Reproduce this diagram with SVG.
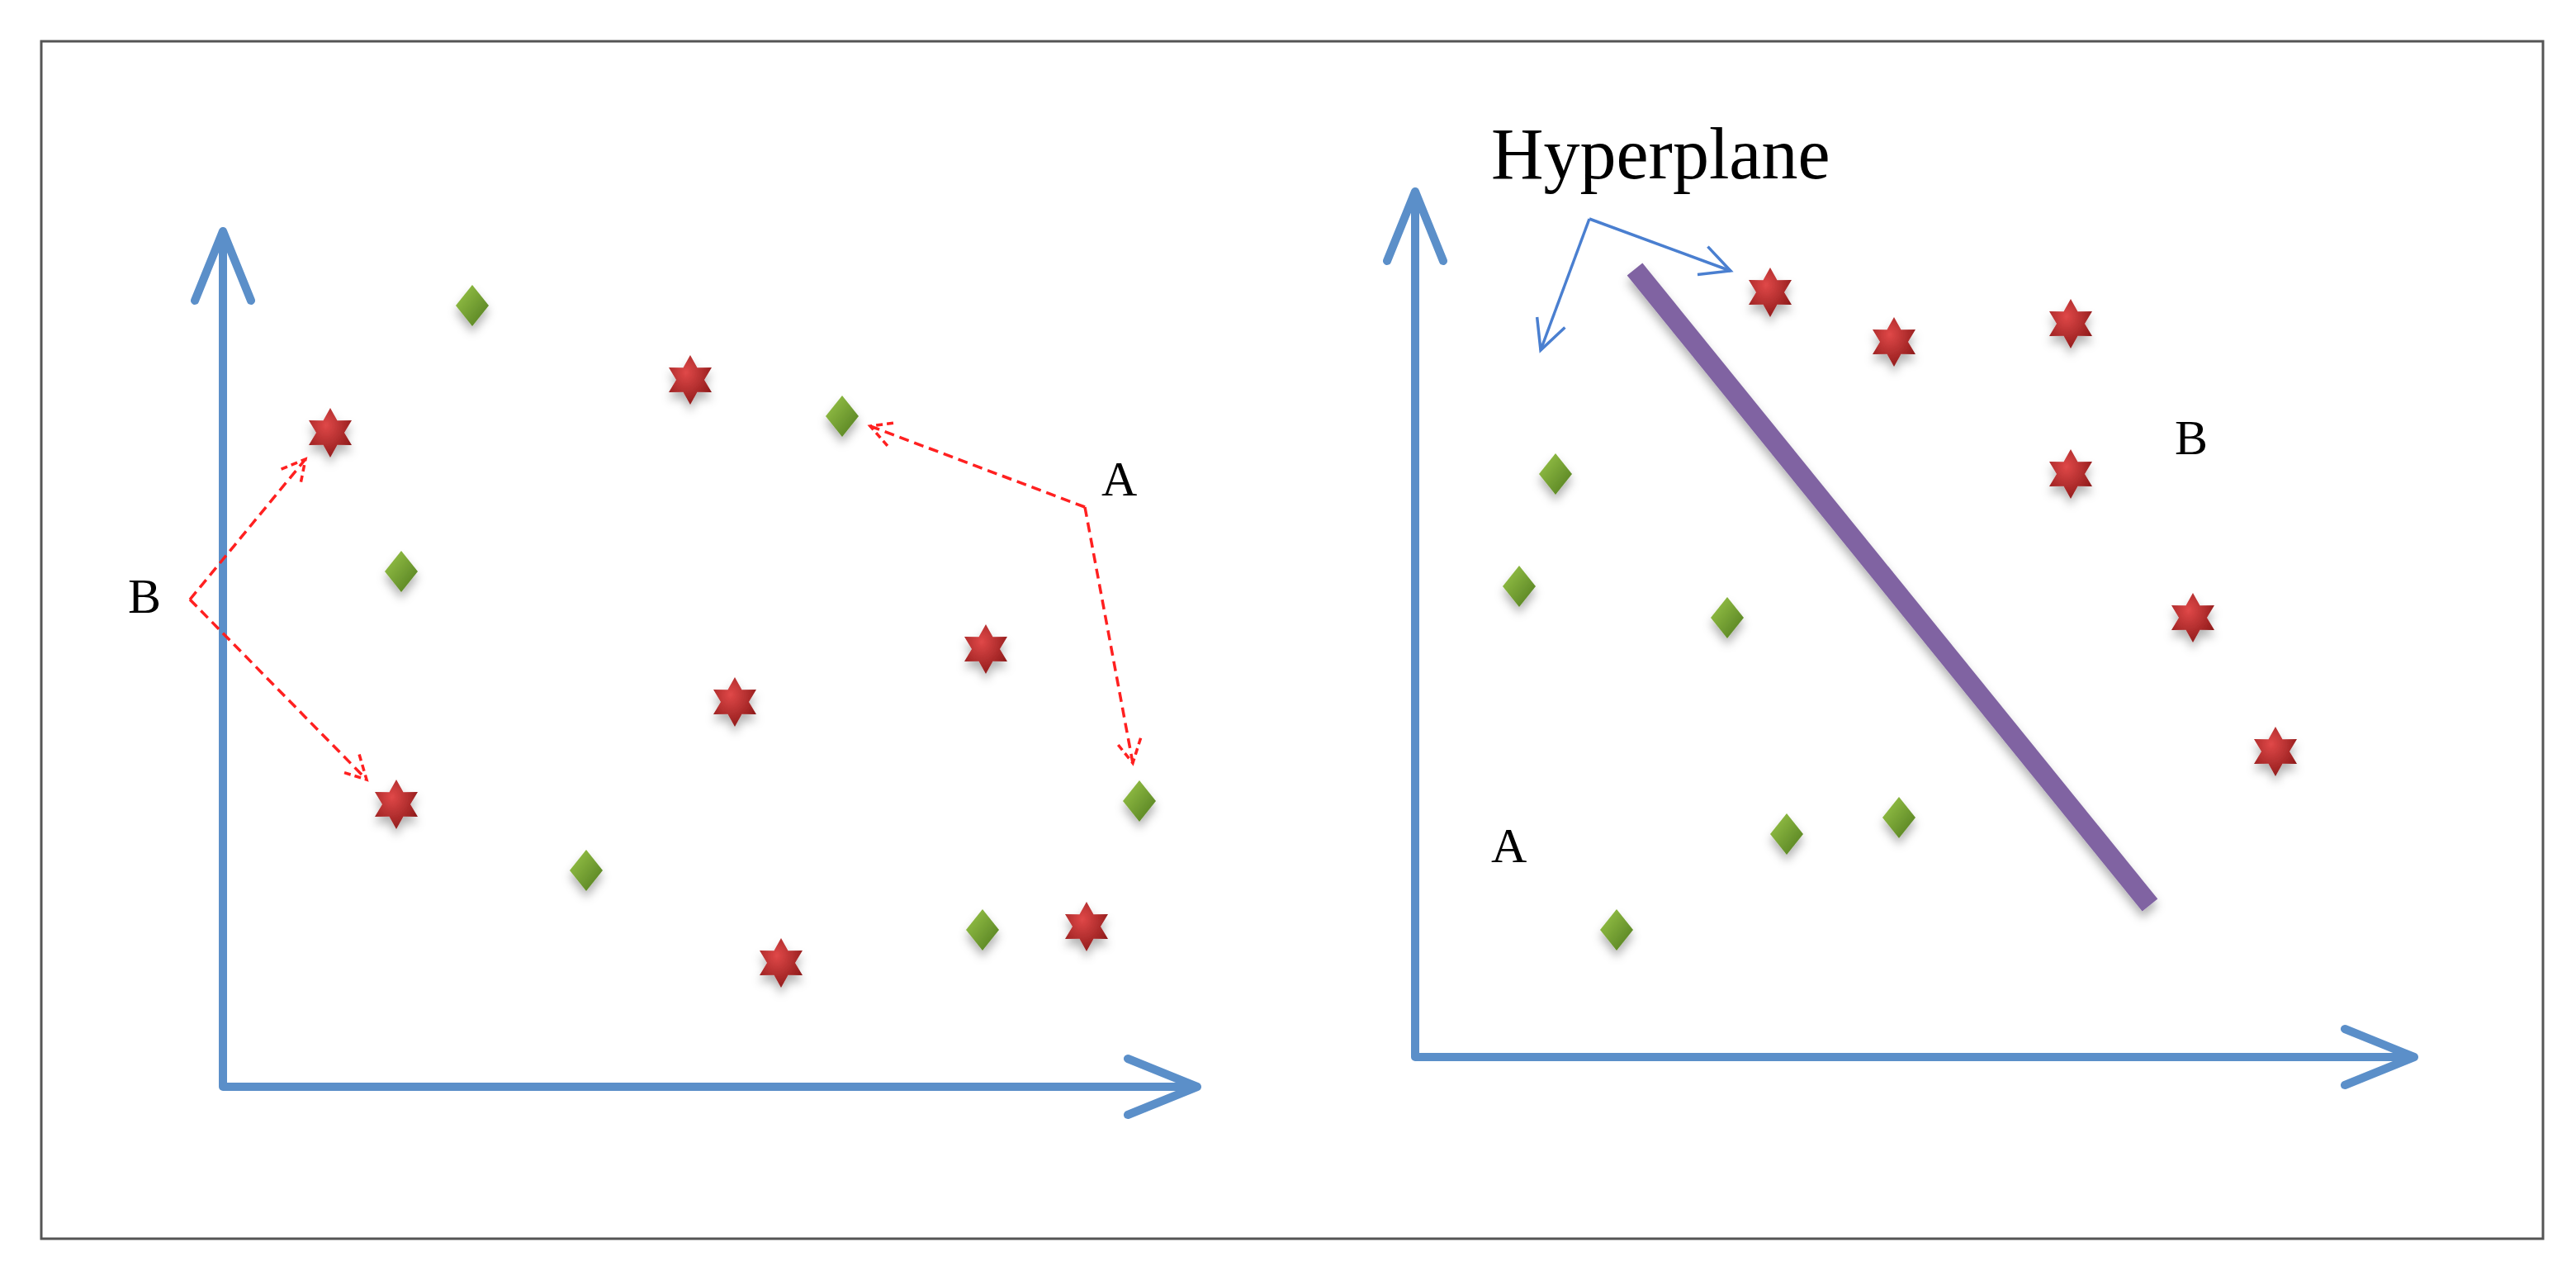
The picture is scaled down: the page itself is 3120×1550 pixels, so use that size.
<svg xmlns="http://www.w3.org/2000/svg" width="3120" height="1550" viewBox="0 0 3120 1550">
<style>
.ax{fill:none;stroke:#5b8fc9;stroke-width:10;stroke-linecap:round;stroke-linejoin:round}
.rd{fill:none;stroke:#ff2020;stroke-width:3.5;stroke-dasharray:12 7}
.bl{fill:none;stroke:#4a7fd0;stroke-width:3.5}
.t{font-family:"Liberation Serif",serif;font-size:60px;fill:#000}
</style>
<defs>
<radialGradient id="gs" cx="0.4" cy="0.35" r="0.7"><stop offset="0" stop-color="#e04848"/><stop offset="1" stop-color="#8e1a1a"/></radialGradient>
<linearGradient id="gd" x1="0" y1="0" x2="1" y2="1"><stop offset="0" stop-color="#9cc84a"/><stop offset="1" stop-color="#4f7a1e"/></linearGradient>
<filter id="sh" x="-50%" y="-50%" width="200%" height="220%"><feDropShadow dx="0" dy="8" stdDeviation="6" flood-color="#000" flood-opacity="0.3"/></filter>
<g id="star" filter="url(#sh)"><polygon points="0,-30 8.5,-14.7 26,-15 17,0 26,15 8.5,14.7 0,30 -8.5,14.7 -26,15 -17,0 -26,-15 -8.5,-14.7" fill="url(#gs)"/></g>
<g id="dia" filter="url(#sh)"><polygon points="0,-25 20,0 0,25 -20,0" fill="url(#gd)"/></g>
<marker id="mr" markerWidth="40" markerHeight="40" refX="34" refY="20" orient="auto" markerUnits="userSpaceOnUse"><path d="M6,5 L34,20 L6,35" fill="none" stroke="#ff2020" stroke-width="3.5" stroke-dasharray="8 5"/></marker>
<marker id="mb" markerWidth="50" markerHeight="50" refX="44" refY="25" orient="auto" markerUnits="userSpaceOnUse"><path d="M8,7 L44,25 L8,43" fill="none" stroke="#4a7fd0" stroke-width="3.5"/></marker>
</defs>
<rect x="50" y="50" width="3030" height="1450" fill="#fff" stroke="#555" stroke-width="3"/>
<g id="left-axes"><path class="ax" d="M270,1316 L270,280 M236,364 L270,280 L304,364 M270,1316 L1450,1316 M1366,1282 L1450,1316 L1366,1350"/></g>
<g id="right-axes"><path class="ax" d="M1714,1280 L1714,232 M1680,316 L1714,232 L1748,316 M1714,1280 L2924,1280 M2840,1246 L2924,1280 L2840,1314"/></g>
<g id="hyperplane"><line x1="1980" y1="326" x2="2604" y2="1096" stroke="#8064a2" stroke-width="24" filter="url(#sh)"/></g>
<g id="points-left">
<use href="#dia" x="572" y="370"/><use href="#dia" x="486" y="692"/><use href="#dia" x="1020" y="504"/><use href="#dia" x="710" y="1054"/><use href="#dia" x="1380" y="970"/><use href="#dia" x="1190" y="1126"/>
<use href="#star" x="400" y="524"/><use href="#star" x="836" y="460"/><use href="#star" x="890" y="850"/><use href="#star" x="1194" y="786"/><use href="#star" x="480" y="974"/><use href="#star" x="946" y="1166"/><use href="#star" x="1316" y="1122"/>
</g>
<g id="points-right">
<use href="#dia" x="1884" y="574"/><use href="#dia" x="1840" y="710"/><use href="#dia" x="2092" y="748"/><use href="#dia" x="2164" y="1010"/><use href="#dia" x="2300" y="990"/><use href="#dia" x="1958" y="1126"/>
<use href="#star" x="2144" y="354"/><use href="#star" x="2294" y="414"/><use href="#star" x="2508" y="392"/><use href="#star" x="2508" y="574"/><use href="#star" x="2656" y="748"/><use href="#star" x="2756" y="910"/>
</g>
<g id="connectors">
<path class="rd" d="M230,726 L370,556" marker-end="url(#mr)"/>
<path class="rd" d="M230,726 L444,944" marker-end="url(#mr)"/>
<path class="rd" d="M1314,614 L1054,516" marker-end="url(#mr)"/>
<path class="rd" d="M1314,614 L1372,924" marker-end="url(#mr)"/>
<path class="bl" d="M1925,265 L1866,424" marker-end="url(#mb)"/>
<path class="bl" d="M1925,265 L2096,328" marker-end="url(#mb)"/>
</g>
<g id="labels">
<text class="t" x="155" y="742">B</text>
<text class="t" x="1334" y="600">A</text>
<text class="t" x="2634" y="550">B</text>
<text class="t" x="1806" y="1044">A</text>
<text class="t" x="1806" y="216" style="font-size:88px">Hyperplane</text>
</g>
</svg>
